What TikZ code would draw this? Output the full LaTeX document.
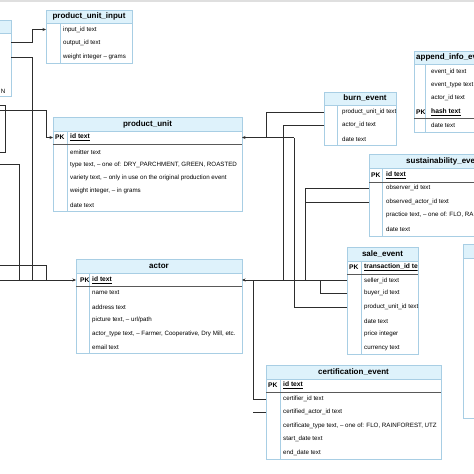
\documentclass[tikz,border=0pt]{standalone}
\usepackage{fontspec}
\setmainfont{Liberation Sans}
\usetikzlibrary{arrows.meta}
\definecolor{hdr}{RGB}{222,242,251}
\definecolor{bdr}{RGB}{168,206,228}
\definecolor{ln}{RGB}{45,45,45}
\tikzset{
  tblbox/.style={draw=bdr, line width=0.7pt, anchor=north west, inner sep=0pt, outer sep=0pt},
  ttl/.style={font=\fontsize{8}{9.6}\selectfont\bfseries, inner sep=0pt},
  row/.style={font=\fontsize{6.2}{7.4}\selectfont, anchor=west, inner sep=0pt},
  pk/.style={font=\fontsize{6.7}{8}\selectfont\bfseries, anchor=west, inner sep=0pt},
  conn/.style={draw=ln, line width=0.7pt},
  arr/.style={conn, -{Stealth[length=3.5pt,width=3pt]}},
  sep/.style={draw=bdr, line width=0.7pt},
  pksep/.style={draw=gray!70!black, line width=0.9pt},
}
\newcommand{\ertable}[6]{%
  \fill[hdr] (#2,#3) rectangle ++(#4,#6);
  \node[tblbox, minimum width=#4pt, minimum height=#5pt] (#1) at (#2,#3) {};
  \draw[sep] ([yshift=-#6pt]#1.north west) -- ([yshift=-#6pt]#1.north east);
}
\begin{document}
\begin{tikzpicture}[x=1pt,y=-1pt]
\useasboundingbox (0,0) rectangle (474,474);
\clip (0,0) rectangle (474,474);
\fill[gray!25] (0,0) rectangle (474,1.5);

% left partial table
\ertable{lt}{-40}{20}{51}{76}{13}
\node[row, anchor=east] (lt-n) at (5.5,91) {N};

% product_unit_input
\ertable{pui}{46}{10}{86}{53}{13}
\draw[sep] (60,23) -- (60,63);
\node[ttl] (pui-t) at (89,16.5) {product\_unit\_input};
\node[row] (pui-r1) at (63,29.5) {input\_id text};
\node[row] (pui-r2) at (63,43) {output\_id text};
\node[row] (pui-r3) at (63,57) {weight integer -- grams};

% product_unit
\ertable{pu}{53}{117}{189}{94}{14}
\draw[sep] (67,131) -- (67,211);
\draw[pksep] (53,144) -- (242,144);
\node[ttl] (pu-t) at (147.5,124) {product\_unit};
\node[pk] (pu-pk) at (55,137.5) {PK};
\node[pk] (pu-id) at (70,137.5) {\underline{id text}};
\node[row] (pu-r1) at (70,152) {emitter text};
\node[row] (pu-r2) at (70,165) {type text, -- one of: DRY\_PARCHMENT, GREEN, ROASTED};
\node[row] (pu-r3) at (70,178) {variety text, -- only in use on the original production event};
\node[row] (pu-r4) at (70,191) {weight integer, -- in grams};
\node[row] (pu-r5) at (70,205) {date text};

% actor
\ertable{ac}{76}{259}{166}{94}{14}
\draw[sep] (89,273) -- (89,353);
\draw[pksep] (76,286) -- (242,286);
\node[ttl] (ac-t) at (159,266) {actor};
\node[pk] (ac-pk) at (80,280) {PK};
\node[pk] (ac-id) at (92,280) {\underline{id text}};
\node[row] (ac-r1) at (92,293) {name text};
\node[row] (ac-r2) at (92,307) {address text};
\node[row] (ac-r3) at (92,320) {picture text, -- url/path};
\node[row] (ac-r4) at (92,334) {actor\_type text, -- Farmer, Cooperative, Dry Mill, etc.};
\node[row] (ac-r5) at (92,347) {email text};

% burn_event
\ertable{bu}{324}{92}{72}{53}{13}
\draw[sep] (337,105) -- (337,145);
\node[ttl] (bu-t) at (365,98.5) {burn\_event};
\node[row] (bu-r1) at (342,112) {product\_unit\_id text};
\node[row] (bu-r2) at (342,125) {actor\_id text};
\node[row] (bu-r3) at (342,139) {date text};

% append_info_event
\ertable{ap}{414}{51}{80}{81}{13}
\draw[sep] (425,64) -- (425,132);
\draw[pksep] (414,118) -- (494,118);
\node[ttl, anchor=west] (ap-t) at (416,57.5) {append\_info\_event};
\node[row] (ap-r1) at (431,72) {event\_id text};
\node[row] (ap-r2) at (431,85) {event\_type text};
\node[row] (ap-r3) at (431,98) {actor\_id text};
\node[pk] (ap-pk) at (416,112) {PK};
\node[pk] (ap-id) at (431,112) {\underline{hash text}};
\node[row] (ap-r4) at (431,125) {date text};

% sustainability_event
\ertable{su}{369}{154}{180}{82}{14}
\draw[sep] (382,168) -- (382,236);
\draw[pksep] (369,182) -- (549,182);
\node[ttl, anchor=west] (su-t) at (406,161) {sustainability\_event};
\node[pk] (su-pk) at (371,175) {PK};
\node[pk] (su-id) at (386,175) {\underline{id text}};
\node[row] (su-r1) at (386,188) {observer\_id text};
\node[row] (su-r2) at (386,202) {observed\_actor\_id text};
\node[row] (su-r3) at (386,215) {practice text, -- one of: FLO, RAINFOREST, UTZ};
\node[row] (su-r4) at (386,229) {date text};

% sale_event
\ertable{sa}{347}{247}{71}{107}{14}
\draw[sep] (361,261) -- (361,354);
\draw[pksep] (347,274) -- (418,274);
\node[ttl] (sa-t) at (382.5,254) {sale\_event};
\node[pk] (sa-pk) at (349,267) {PK};
\begin{scope}
\clip (361,261) rectangle (417.5,274);
\node[pk] (sa-id) at (364,267) {\underline{transaction\_id text}};
\end{scope}
\node[row] (sa-r1) at (364,280.5) {seller\_id text};
\node[row] (sa-r2) at (364,293) {buyer\_id text};
\node[row] (sa-r3) at (364,307) {product\_unit\_id text};
\node[row] (sa-r4) at (364,321) {date text};
\node[row] (sa-r5) at (364,334) {price integer};
\node[row] (sa-r6) at (364,348) {currency text};

% right partial table
\ertable{rp}{463}{244}{80}{174}{14}

% certification_event
\ertable{ce}{266}{365}{175}{94}{14}
\draw[sep] (280,379) -- (280,459);
\draw[pksep] (266,392) -- (441,392);
\node[ttl] (ce-t) at (353.5,372) {certification\_event};
\node[pk] (ce-pk) at (268,385) {PK};
\node[pk] (ce-id) at (283,385) {\underline{id text}};
\node[row] (ce-r1) at (283,399) {certifier\_id text};
\node[row] (ce-r2) at (283,412) {certified\_actor\_id text};
\node[row] (ce-r3) at (283,426) {certificate\_type text, -- one of: FLO, RAINFOREST, UTZ};
\node[row] (ce-r4) at (283,439) {start\_date text};
\node[row] (ce-r5) at (283,453) {end\_date text};

% coordinates for bends and free ends
\coordinate (ja) at (32,42);
\coordinate (jb) at (32,57);
\coordinate (fc) at (0,110);
\coordinate (jc) at (46,110);
\coordinate (fd1) at (0,105);
\coordinate (jd) at (5,152);
\coordinate (fd2) at (0,152);
\coordinate (fe) at (0,164);
\coordinate (je) at (19,164);
\coordinate (ff) at (0,265);
\coordinate (jf) at (46,265);
\coordinate (fg) at (0,280);
\coordinate (xh) at (266,0);
\coordinate (xi) at (283,0);
\coordinate (xj) at (294,0);
\coordinate (xk) at (305,0);
\coordinate (xn) at (320,0);
\coordinate (xo) at (253,0);

% left connectors
\draw[arr] (lt.east |- ja) -- (ja) |- (pui.west |- pui-r1);
\draw[conn] (lt.east |- jb) -- (jb) -- (jb |- ac-pk);
\draw[arr] (fc) -- (jc) |- (pu.west |- pu-pk);
\draw[conn] (fd1) -| (jd) -- (fd2);
\draw[conn] (fe) -- (je) -- (je |- ac-pk);
\draw[conn] (ff) -- (jf) -- (jf |- ac-pk);
\draw[arr] (fg) -- (ac.west |- ac-pk);

% right connectors to product_unit
\draw[conn] (bu.west |- bu-r1) -| (xh |- pu-pk);
\draw[conn] (sa.west |- sa-r3) -| (xj |- pu-pk);
\draw[arr] (xj |- pu-pk) -- (pu.east |- pu-pk);

% right connectors to actor
\draw[conn] (bu.west |- bu-r2) -| (xi |- ac-pk);
\draw[conn] (su.west |- su-r1) -| (xk |- ac-pk);
\draw[conn] (su.west |- su-r2) -- (xk |- su-r2);
\draw[conn] (sa.west |- sa-r2) -| (xn |- ac-pk);
\draw[conn] (ce.west |- ce-r1) -| (xo |- ac-pk);
\draw[conn] (ce.west |- ce-r2) -- (xo |- ce-r2);
\draw[arr] (sa.west |- ac-pk) -- (ac.east |- ac-pk);
\end{tikzpicture}
\end{document}
